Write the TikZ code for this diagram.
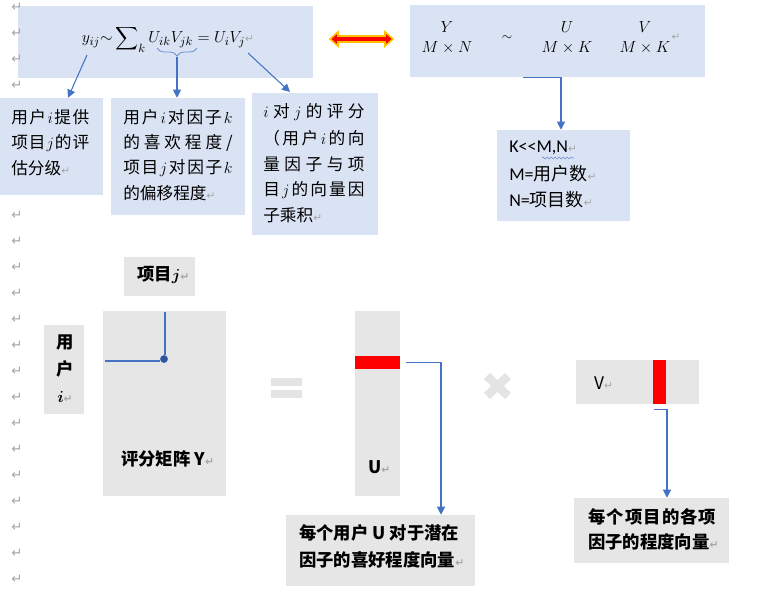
\documentclass[tikz,border=0pt]{standalone}
\usepackage[no-math]{fontspec}
\usepackage{amsmath,bm}
\setmainfont{Noto Sans CJK SC}
\newfontfamily\djv{DejaVu Sans}
\newfontfamily\carl{Carlito}
\usetikzlibrary{arrows.meta,fit,decorations.pathreplacing,decorations.pathmorphing}
\definecolor{bblue}{HTML}{DAE3F3}
\definecolor{bgray}{HTML}{E7E6E6}
\definecolor{ablue}{HTML}{4472C4}
\definecolor{dblue}{HTML}{2F5597}
\definecolor{pmgray}{HTML}{A6A6A6}
\definecolor{signgray}{HTML}{E4E4E4}
\definecolor{aorange}{HTML}{FFC000}
\newcommand\parmark{{\djv\fontsize{8}{8}\selectfont\color{pmgray}↵}}
\newcommand\lmark{{\djv\fontsize{10}{10}\selectfont\color{pmgray}↵}}
\newcommand\hf{\hfill{}}
\begin{document}
\begin{tikzpicture}[x=0.75pt,y=-0.75pt,
  bluebox/.style={fill=bblue,inner sep=0pt,draw=none},
  graybox/.style={fill=bgray,inner sep=0pt,draw=none},
  txt/.style={inner sep=0pt,anchor=west,font=\fontsize{12.5}{15}\selectfont},
  btxt/.style={inner sep=0pt,anchor=west,font=\fontsize{13}{15}\selectfont\bfseries},
  ktxt/.style={inner sep=0pt,anchor=west,font=\fontsize{13.5}{15}\selectfont},
  mtxt/.style={inner sep=0pt,font=\fontsize{13}{15}\selectfont},
  arr/.style={draw=ablue,line width=0.8pt,-{Triangle[length=6pt,width=6pt]}},
  thin/.style={draw=ablue,line width=0.8pt},
  ]
\useasboundingbox (0,0) rectangle (760,592);

% ---------- upper boxes ----------
\node[bluebox,fit={(18,6)(313,78)}] (fbox) {};
\node[bluebox,fit={(410,5)(705,77)}] (rbox) {};
\node[bluebox,fit={(0,98)(103,195)}] (b1) {};
\node[bluebox,fit={(111,98)(245,215)}] (b2) {};
\node[bluebox,fit={(252,93)(378,235)}] (b3) {};
\node[bluebox,fit={(497,130)(630,221)}] (kbox) {};

% ---------- lower boxes ----------
\node[graybox,fit={(124,257)(195,296)}] (itembox) {};
\node[graybox,fit={(44,325)(84,414)}] (userbox) {};
\node[graybox,fit={(103,311)(226,496)}] (ybox) {};
\node[graybox,fit={(355,311)(400,496)}] (ubox) {};
\node[graybox,fit={(576,360)(699,404)}] (vbox) {};
\node[graybox,fit={(286,515)(475,586)}] (unote) {};
\node[graybox,fit={(574,498)(729,563)}] (vnote) {};
\node[fill=red,inner sep=0pt,fit={(355,356)(400,369)}] (ured) {};
\node[fill=red,inner sep=0pt,fit={(653,360)(666,404)}] (vred) {};

% ---------- paragraph marks on the left ----------
\foreach \n in {0,1,2,3,8,9,10,11,12,13,14,15,16,17,18,19,20,21,22}
  \node[inner sep=0pt] (pm\n) at (17,7+26*\n) {\lmark};

% ---------- formula ----------
\node[mtxt] (fm) at (168,39) {$y_{ij}{\sim}\displaystyle\sum\nolimits_k U_{ik}V_{jk}=U_iV_j$\parmark};
\draw[decorate,decoration={brace,mirror,amplitude=6pt},draw=ablue!80,line width=0.6pt] (157,48) -- (197,48);
\coordinate (brtip) at (177,57);
\coordinate (yij) at (87,55);
\coordinate (uv) at (248,53);
\coordinate (a1e) at (68,0);
\coordinate (a3e) at (290,92);
\draw[arr] (yij) -- (b1.north -| a1e);
\draw[arr] (brtip) -- (b2.north -| brtip);
\draw[arr] (uv) -- (a3e);

% ---------- double arrow ----------
\draw[fill=red,draw=aorange,line width=1.2pt,line join=miter]
  (330,39) -- (338,32) -- (338,36) -- (385,36) -- (385,32) -- (393,39)
  -- (385,46) -- (385,42) -- (338,42) -- (338,46) -- cycle;

% ---------- Y ~ U V ----------
\node[mtxt] (ym) at (447,39) {\begin{tabular}{@{}c@{}}$Y$\\$M\times N$\end{tabular}};
\node[mtxt,font=\fontsize{10}{12}\selectfont] (tl) at (507,38) {$\sim$};
\node[mtxt] (um) at (567,39) {\begin{tabular}{@{}c@{}}$U$\\$M\times K$\end{tabular}};
\node[mtxt] (vm) at (645,39) {\begin{tabular}{@{}c@{}}$V$\\$M\times K$\end{tabular}};
\node[inner sep=0pt] (vmp) at (676,37) {\parmark};
\coordinate (kx1) at (523,0);
\coordinate (kx2) at (561,0);
\draw[arr] (rbox.south -| kx1) -- (rbox.south -| kx2) -- (kbox.north -| kx2);

% ---------- K box ----------
\node[ktxt] (k1) at (509,148) {{\carl K<<M,N}\parmark};
\node[ktxt] (k2) at (509,174) {{\carl M=}用户数\parmark};
\node[ktxt] (k3) at (509,200) {{\carl N=}项目数\parmark};
\draw[decorate,decoration={snake,amplitude=0.7pt,segment length=3pt},draw=ablue!80,line width=0.4pt] (542,158) -- (574,158);

% ---------- box 1 ----------
\node[txt] (t1a) at (11,117) {\makebox[58.5pt][s]{用\hf 户\hf $i$\hf 提\hf 供}};
\node[txt] (t1b) at (11,143) {\makebox[58.5pt][s]{项\hf 目\hf $j$\hf 的\hf 评}};
\node[txt] (t1c) at (11,168) {估分级\parmark};

% ---------- box 2 ----------
\node[txt] (t2a) at (123,117) {\makebox[82pt][s]{用\hf 户\hf $i$\hf 对\hf 因\hf 子\hf $k$}};
\node[txt] (t2b) at (123,143) {\makebox[82pt][s]{的\hf 喜\hf 欢\hf 程\hf 度\hf /}};
\node[txt] (t2c) at (123,168) {\makebox[82pt][s]{项\hf 目\hf $j$\hf 对\hf 因\hf 子\hf $k$}};
\node[txt] (t2d) at (123,193) {的偏移程度\parmark};

% ---------- box 3 ----------
\node[txt] (t3a) at (263,112) {\makebox[76pt][s]{$i$\hf 对\hf $j$\hf 的\hf 评\hf 分}};
\node[txt] (t3b) at (263,138) {\makebox[76pt][s]{（\hf 用\hf 户\hf $i$\hf 的\hf 向}};
\node[txt] (t3c) at (263,164) {\makebox[76pt][s]{量\hf 因\hf 子\hf 与\hf 项}};
\node[txt] (t3d) at (263,190) {\makebox[76pt][s]{目\hf $j$\hf 的\hf 向\hf 量\hf 因}};
\node[txt] (t3e) at (263,215) {子乘积\parmark};

% ---------- lower section texts ----------
\node[btxt] (it) at (137,275) {项目$\bm{j}$\parmark};
\node[btxt,anchor=center] (u1) at (65,343) {用};
\node[btxt,anchor=center] (u2) at (65,369) {户};
\node[btxt] (u3) at (57,397) {$\bm{i}$\parmark};
\node[btxt] (yl) at (121,459) {评分矩阵 Y\parmark};
\node[btxt] (ul) at (368,467) {U\parmark};
\node[btxt] (vl) at (594,383) {\mdseries V\parmark};

% matrix lines and dot
\node[circle,fill=dblue,draw=ablue,inner sep=0pt,minimum size=5.5pt] (dot) at (164,359) {};
\coordinate (vtop) at (165,312);
\coordinate (hleft) at (105,361);
\draw[thin] (vtop) -- (vtop |- dot.north);
\draw[thin] (hleft) -- (hleft -| dot.west);

% equals and times signs
\fill[signgray] (271,378) rectangle (302,386);
\fill[signgray] (271,390) rectangle (302,398);
\draw[signgray,line width=6.5pt] (487,376) -- (508,396);
\draw[signgray,line width=6.5pt] (487,396) -- (508,376);

% U and V arrows
\coordinate (ux) at (441,0);
\coordinate (vx) at (667,0);
\draw[arr] ([xshift=4pt]ured.east) -| (unote.north -| ux);
\draw[arr] ([xshift=0.8pt,yshift=-4pt]vred.south west) -| (vnote.north -| vx);

% notes
\node[btxt] (un1) at (299,533) {每个用户 U 对于潜在};
\node[btxt] (un2) at (299,560) {因子的喜好程度向量\parmark};
\node[btxt] (vn1) at (588,517) {\makebox[96pt][s]{每\hf 个\hf 项\hf 目\hf 的\hf 各\hf 项}};
\node[btxt] (vn2) at (588,542) {因子的程度向量\parmark};
\end{tikzpicture}
\end{document}
